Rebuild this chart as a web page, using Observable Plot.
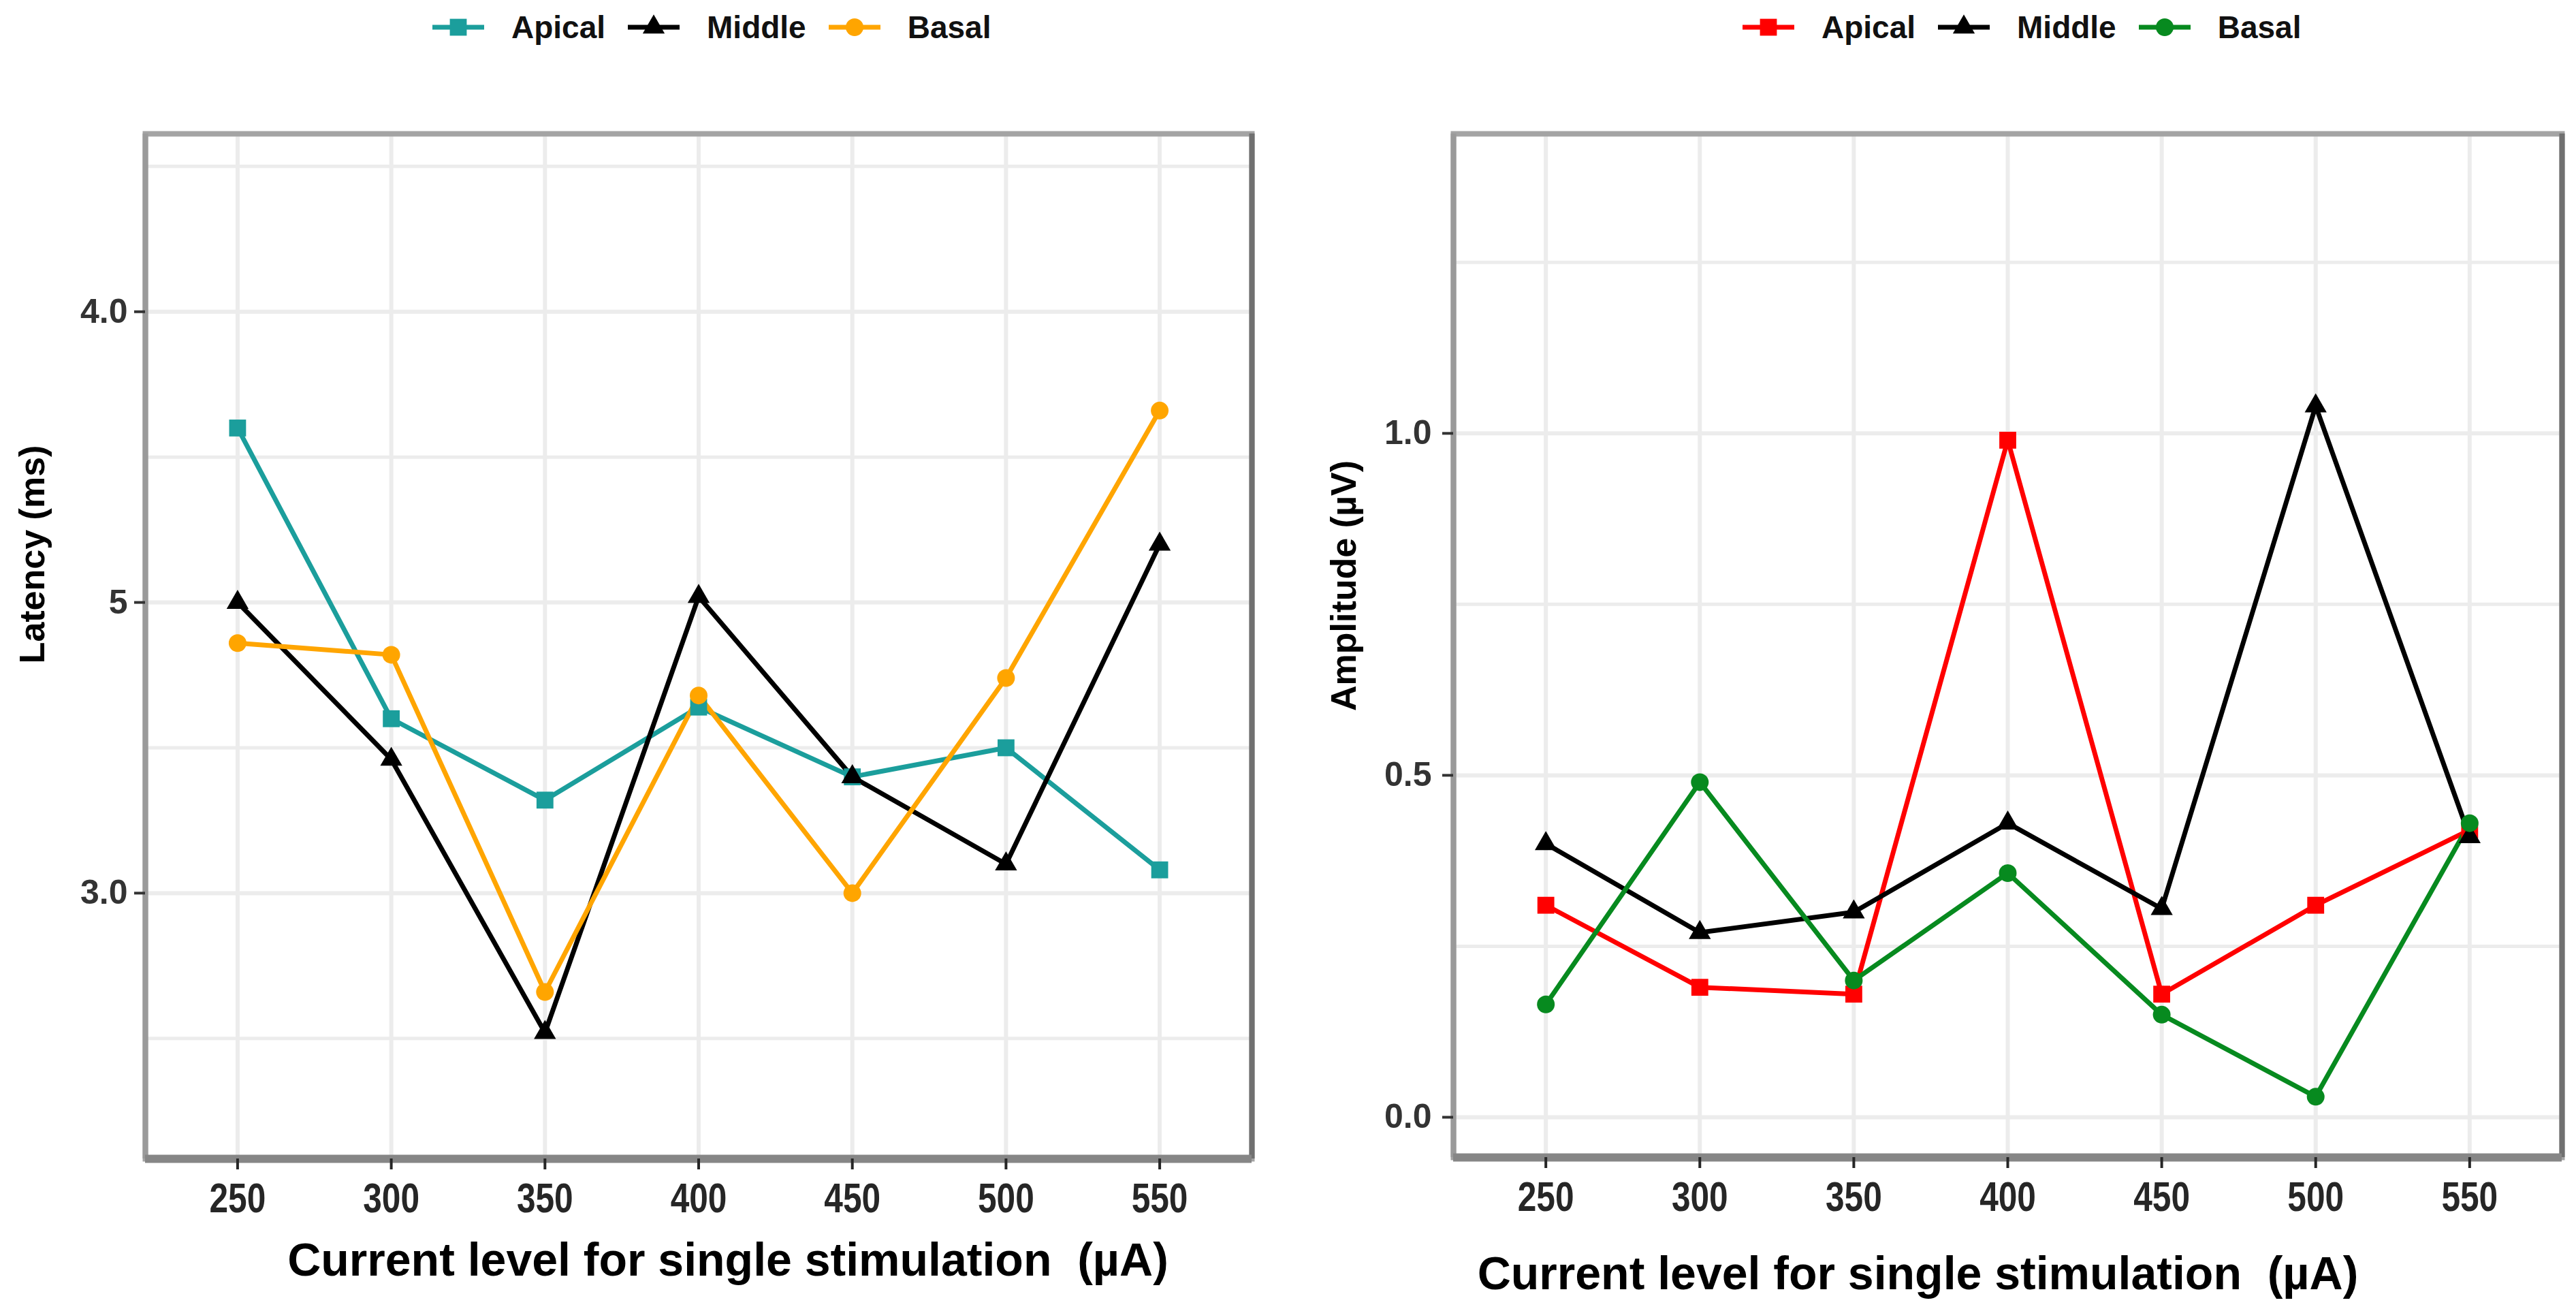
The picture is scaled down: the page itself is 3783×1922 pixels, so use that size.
<!DOCTYPE html>
<html><head><meta charset="utf-8">
<script src="https://cdn.jsdelivr.net/npm/d3@7"></script>
<script src="https://cdn.jsdelivr.net/npm/@observablehq/plot@0.6"></script>
<style>
html,body{margin:0;padding:0;background:#fff;}
#root{position:relative;width:3783px;height:1922px;overflow:hidden;font-family:'Liberation Sans',Arial,sans-serif;background:#fff;}
.legend{position:absolute;top:14px;height:52px;display:flex;align-items:center;font-weight:bold;font-size:46px;color:#111;white-space:nowrap;}
.legend .sw{width:76px;height:44px;margin-right:40px;flex:none;}
.legend .lb{margin-right:33px;}
.panel{position:absolute;top:100px;}
</style></head><body><div id="root"></div>
<script>
// ---- data ----
const currents = [250, 300, 350, 400, 450, 500, 550];
const xTickLabels = ["250", "300", "350", "400", "450", "500", "550"];
const seriesNames = ["Apical", "Middle", "Basal"];
const seriesSymbols = ["square", "triangle", "circle"];

const latencyApical = [3.80, 3.30, 3.16, 3.32, 3.20, 3.25, 3.04];
const latencyMiddle = [3.50, 3.23, 2.76, 3.51, 3.20, 3.05, 3.60];
const latencyBasal  = [3.43, 3.41, 2.83, 3.34, 3.00, 3.37, 3.83];
const latencyColors = ["#1b9e9c", "#000000", "#ffa500"];
const latencyTicks = [3.0, 3.5, 4.0];
const latencyTickLabels = ["3.0", "5", "4.0"];
const latencyMinor = [2.75, 3.25, 3.75, 4.25];

const ampApical = [0.31, 0.19, 0.18, 0.99, 0.18, 0.31, 0.42];
const ampMiddle = [0.40, 0.27, 0.30, 0.43, 0.305, 1.04, 0.41];
const ampBasal  = [0.165, 0.49, 0.20, 0.357, 0.15, 0.03, 0.43];
const ampColors = ["#ff0000", "#000000", "#078a1f"];
const ampTicks = [0.0, 0.5, 1.0];
const ampTickLabels = ["0.0", "0.5", "1.0"];
const ampMinor = [0.25, 0.75, 1.25];

const xTitle = "Current level for single stimulation  (µA)";
const latencyTitle = "Latency (ms)";
const ampTitle = "Amplitude (µV)";

// ---- helpers ----
const symbolR = {square: 14, triangle: 12, circle: 13};
const d3Sym = {square: d3.symbolSquare, triangle: d3.symbolTriangle, circle: d3.symbolCircle};
const FONT = "'Liberation Sans', Arial, sans-serif";

function rows(seriesValues) {
  const out = [];
  seriesValues.forEach((vals, s) => vals.forEach((v, i) => out.push({current: currents[i], value: v, series: seriesNames[s]})));
  return out;
}

function makePanel(cfg) {
  const data = rows(cfg.values);
  const marks = [
    Plot.gridY(cfg.minor, {stroke: "#ececec", strokeOpacity: 1, strokeWidth: 5}),
    Plot.gridY(cfg.ticks, {stroke: "#ececec", strokeOpacity: 1, strokeWidth: 6}),
    Plot.gridX(currents, {stroke: "#ececec", strokeOpacity: 1, strokeWidth: 6}),
    Plot.frame({stroke: "#a4a4a4", strokeWidth: 8}),
    Plot.ruleX([cfg.xDomain[1]], {stroke: "#707070", strokeWidth: 8}),
    Plot.ruleX([cfg.xDomain[0]], {stroke: "#9a9a9a", strokeWidth: 8}),
    Plot.ruleY([cfg.yDomain[0]], {stroke: "#868686", strokeWidth: 12})
  ];
  seriesNames.forEach((name, s) => {
    marks.push(Plot.line(data.filter(d => d.series === name), {x: "current", y: "value", stroke: cfg.colors[s], strokeWidth: 7}));
  });
  seriesNames.forEach((name, s) => {
    const sym = seriesSymbols[s];
    marks.push(Plot.dot(data.filter(d => d.series === name), {x: "current", y: "value", symbol: sym, fill: cfg.colors[s], stroke: "none", r: symbolR[sym]}));
  });
  marks.push(
    Plot.axisX(currents, {anchor: "bottom", tickSize: 16, tickPadding: 18, fontSize: 62, color: "#262626", strokeWidth: 4,
      tickFormat: d => xTickLabels[currents.indexOf(d)], label: null}),
    Plot.axisY(cfg.ticks, {anchor: "left", tickSize: 16, tickPadding: cfg.yPad, fontSize: 50, color: "#333333", strokeWidth: 4,
      tickFormat: d => cfg.tickLabels[cfg.ticks.indexOf(d)], label: null}),
    Plot.text([xTitle], {text: d => d, frameAnchor: "bottom", textAnchor: "middle", lineAnchor: "middle",
      dx: cfg.xTitleDx, dy: cfg.xTitleDy, fontSize: 68, fill: "#000", ariaLabel: "x-title"}),
    Plot.text([cfg.yTitle], {text: d => d, frameAnchor: "left", textAnchor: "middle", lineAnchor: "middle", rotate: -90,
      dx: cfg.yTitleDx, dy: cfg.yTitleDy, fontSize: 52, fill: "#000", ariaLabel: "y-title"})
  );
  const svg = Plot.plot({
    width: cfg.width, height: 1822,
    marginTop: 96, marginBottom: cfg.marginBottom, marginLeft: cfg.marginLeft, marginRight: cfg.marginRight,
    x: {domain: cfg.xDomain},
    y: {domain: cfg.yDomain},
    style: {fontFamily: FONT, fontWeight: "bold", background: "white", overflow: "visible"},
    marks
  });
  svg.querySelectorAll('g[aria-label="x-axis tick label"] text, g[aria-label="x-title"] text').forEach(el => {
    const t = el.getAttribute("transform") || "";
    el.setAttribute("transform", t + " scale(0.8,1)");
  });
  return svg;
}

function makeLegend(colors, left) {
  const div = document.createElement("div");
  div.className = "legend";
  div.style.left = left + "px";
  seriesNames.forEach((name, s) => {
    const sym = seriesSymbols[s];
    const svg = d3.create("svg").attr("class", "sw").attr("width", 76).attr("height", 44);
    svg.append("line").attr("x1", 0).attr("x2", 76).attr("y1", 22).attr("y2", 22).attr("stroke", colors[s]).attr("stroke-width", 7);
    svg.append("path").attr("transform", "translate(38,22)").attr("fill", colors[s])
      .attr("d", d3.symbol(d3Sym[sym], Math.PI * symbolR[sym] * symbolR[sym])());
    div.appendChild(svg.node());
    const lb = document.createElement("span");
    lb.className = "lb";
    lb.textContent = name;
    div.appendChild(lb);
  });
  return div;
}

const root = document.getElementById("root");

const left = makePanel({
  values: [latencyApical, latencyMiddle, latencyBasal], colors: latencyColors,
  ticks: latencyTicks, tickLabels: latencyTickLabels, minor: latencyMinor,
  xDomain: [220, 580], yDomain: [2.543, 4.306],
  width: 1891, marginLeft: 213, marginRight: 53, marginBottom: 221, yPad: 10,
  xTitleDx: 43, xTitleDy: 150, yTitle: latencyTitle, yTitleDx: -165, yTitleDy: -135
});
const lp = document.createElement("div"); lp.className = "panel"; lp.style.left = "0px"; lp.appendChild(left); root.appendChild(lp);

const right = makePanel({
  values: [ampApical, ampMiddle, ampBasal], colors: ampColors,
  ticks: ampTicks, tickLabels: ampTickLabels, minor: ampMinor,
  xDomain: [220, 580], yDomain: [-0.0588, 1.438],
  width: 1892, marginLeft: 243, marginRight: 21, marginBottom: 223, yPad: 16,
  xTitleDx: -132, xTitleDy: 172, yTitle: ampTitle, yTitleDx: -160, yTitleDy: -88
});
const rp = document.createElement("div"); rp.className = "panel"; rp.style.left = "1891px"; rp.appendChild(right); root.appendChild(rp);

root.appendChild(makeLegend(latencyColors, 635));
root.appendChild(makeLegend(ampColors, 2559));
</script>
</body></html>
